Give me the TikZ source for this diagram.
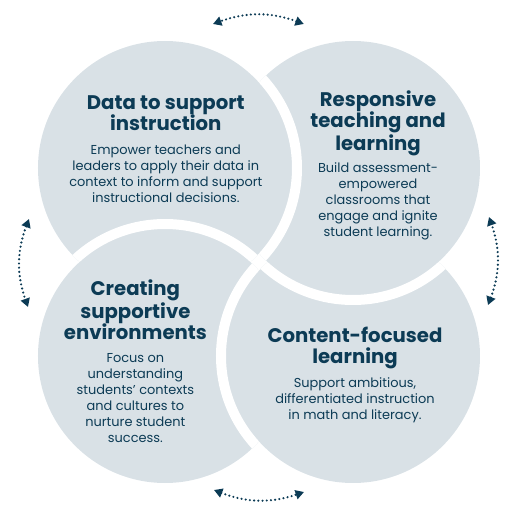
\documentclass[tikz,border=0pt]{standalone}
\usepackage{fontspec}
\setmainfont{Poppins}
\usetikzlibrary{arrows.meta}

\definecolor{navy}{HTML}{0C3B55}
\definecolor{discgrey}{HTML}{D9E1E6}

\tikzset{
  disc/.style={fill=discgrey},
  cut/.style={draw=white, line width=0.25cm},
  cyc/.style={navy, line width=1.7pt, line cap=round, dash pattern=on 0pt off 3pt,
    {Triangle[length=6pt,width=6.5pt]}-{Triangle[length=6pt,width=6.5pt]}},
  head/.style={text=navy, font=\fontsize{14}{15}\selectfont\bfseries, align=center},
  body/.style={text=navy, font=\fontsize{9.2}{11.4}\selectfont, align=center},
}

\begin{document}
\begin{tikzpicture}
  \useasboundingbox (-6.475,-6.375) rectangle (6.475,6.55);
  \def\rad{3.175}
  \coordinate (dTL) at (-2.35,2.35);
  \coordinate (dTR) at (2.35,2.35);
  \coordinate (dBL) at (-2.35,-2.35);
  \coordinate (dBR) at (2.35,-2.35);

  % discs
  \foreach \d in {dTL,dTR,dBL,dBR} \fill[disc] (\d) circle (\rad);

  % white cuts, each disc over the next one round the ring
  \begin{scope} \clip (dTR) circle (\rad); \draw[cut] (dTL) circle (\rad+0.125); \end{scope}
  \begin{scope} \clip (dBR) circle (\rad); \draw[cut] (dTR) circle (\rad+0.125); \end{scope}
  \begin{scope} \clip (dBL) circle (\rad); \draw[cut] (dBR) circle (\rad+0.125); \end{scope}
  \begin{scope} \clip (dTL) circle (\rad); \draw[cut] (dBL) circle (\rad+0.125); \end{scope}

  % texts
  \node[head] (dataT) at (-2.33,3.71) {Data to support\\instruction};
  \node[body] (dataB) at (-2.33,2.2) {Empower teachers and\\leaders to apply their data in\\context to inform and support\\instructional decisions.};
  \node[head] (respT) at (2.975,3.475) {Responsive\\teaching and\\learning};
  \node[body] (respB) at (2.975,1.525) {Build assessment-\\empowered\\classrooms that\\engage and ignite\\student learning.};
  \node[head] (envT) at (-3.09,-1.2) {Creating\\supportive\\environments};
  \node[body] (envB) at (-3.09,-3.41) {Focus on\\understanding\\students’ contexts\\and cultures to\\nurture student\\success.};
  \node[head] (contT) at (2.4,-2.14) {Content-focused\\learning};
  \node[body] (contB) at (2.4,-3.45) {Support ambitious,\\differentiated instruction\\in math and literacy.};

  % dotted arrows round the ring
  \coordinate (topR) at (1.12,5.95);   \coordinate (topL) at (-1.15,5.95);
  \coordinate (lftT) at (-5.75,1.075); \coordinate (lftB) at (-5.775,-1.125);
  \coordinate (botL) at (-1.125,-5.7); \coordinate (botR) at (1.125,-5.75);
  \coordinate (rgtB) at (5.725,-1.075); \coordinate (rgtT) at (5.75,1.125);
  \draw[cyc] (topR) to[bend right=20] (topL);
  \draw[cyc] (lftT) to[bend right=20] (lftB);
  \draw[cyc] (botL) to[bend right=20] (botR);
  \draw[cyc] (rgtB) to[bend right=20] (rgtT);
\end{tikzpicture}
\end{document}
